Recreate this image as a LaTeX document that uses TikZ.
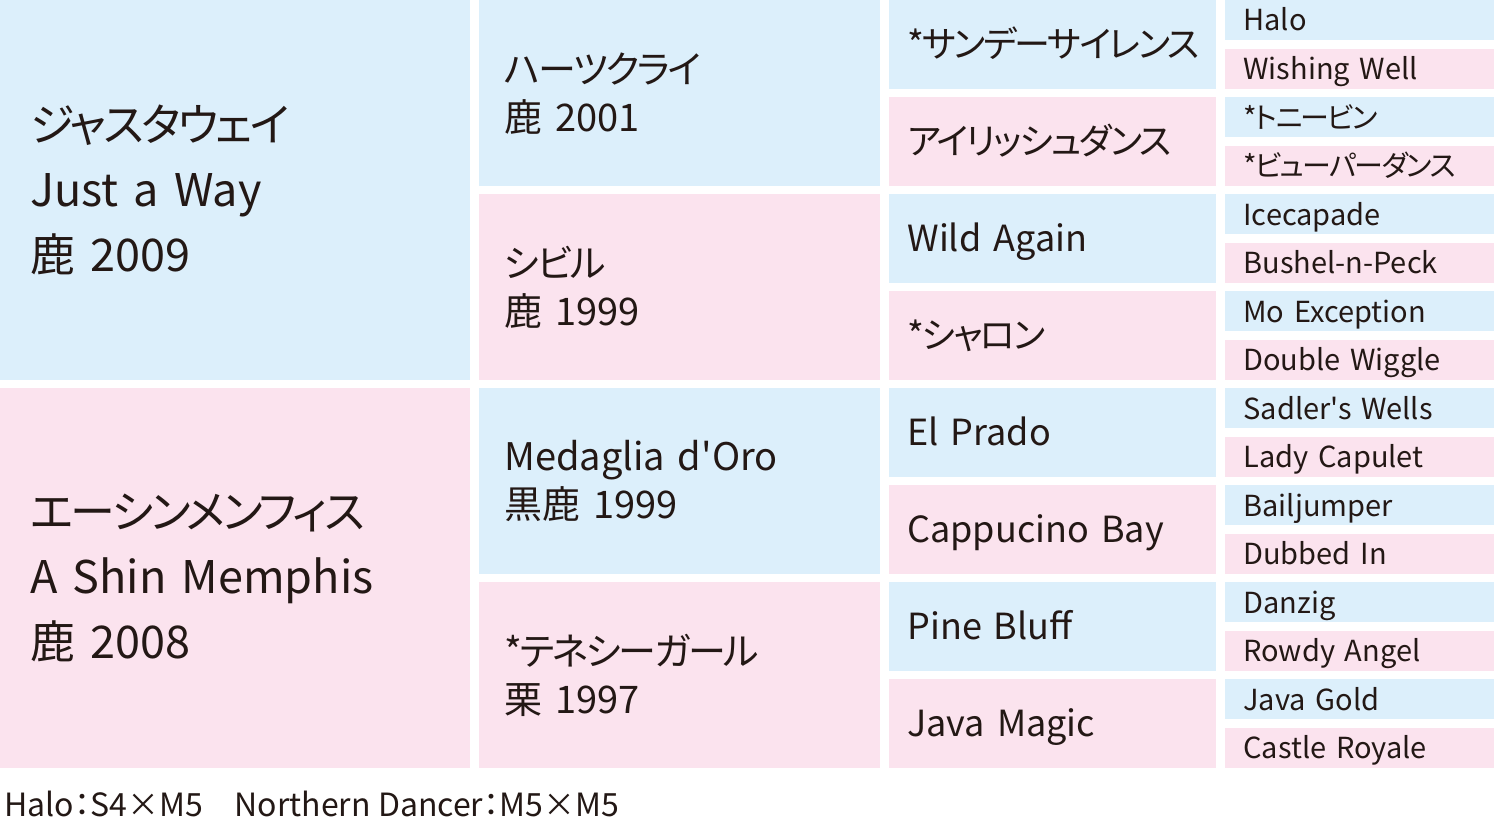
\documentclass[tikz,border=0pt]{standalone}
\usepackage{fontspec}
\newfontfamily\pedfont{Noto Sans CJK JP}[RawFeature=+palt]
\newfontfamily\kanafont{Noto Sans CJK JP}[RawFeature=+palt,LetterSpace=-6]
\usepackage{xcolor}
\definecolor{sireblue}{HTML}{DCEFFB}
\definecolor{damepink}{HTML}{FBE3EE}
\definecolor{inkbrown}{HTML}{231815}

\begin{document}
\begin{tikzpicture}[x=0.5pt,y=0.5pt,yscale=-1,
    cell/.style={anchor=north west, inner ysep=0pt, align=left, text=inkbrown},
    genone/.style={cell, minimum width=235pt, minimum height=189.75pt, inner xsep=15pt, text width=205pt, font=\pedfont\fontsize{22.5}{32.5}\selectfont},
    gentwo/.style={cell, minimum width=200.5pt, minimum height=92.75pt, inner xsep=12.5pt, text width=175.5pt, font=\pedfont\fontsize{19}{24}\selectfont},
    genthree/.style={cell, minimum width=163.5pt, minimum height=44.25pt, inner xsep=9pt, text width=145.5pt, text height=13.2pt, text depth=0pt, font=\pedfont\fontsize{18}{24}\selectfont},
    genfour/.style={cell, minimum width=134.5pt, minimum height=20pt, inner xsep=9pt, text width=116.5pt, text height=10.6pt, text depth=0pt, font=\pedfont\fontsize{14.5}{16}\selectfont},
    sire/.style={fill=sireblue}, dam/.style={fill=damepink}]
        \useasboundingbox (0,0) rectangle (1494,819);

        %Shape: Rectangle  sire and dam
        \node [genone, sire] (sire) at (0,0) {{\kanafont ジャスタウェイ}\\Just a Way\\鹿 2009};
        \node [genone, dam] (dam) at (0,388) {{\kanafont エーシンメンフィス}\\A Shin Memphis\\鹿 2008};

        %Shape: Rectangle  second generation
        \node [gentwo, sire] (ss) at (479,0) {{\kanafont ハーツクライ}\\鹿 2001};
        \node [gentwo, dam] (sd) at (479,194) {{\kanafont シビル}\\鹿 1999};
        \node [gentwo, sire] (ds) at (479,388) {Medaglia d'Oro\\黒鹿 1999};
        \node [gentwo, dam] (dd) at (479,582) {{\kanafont *テネシーガール}\\栗 1997};

        %Shape: Rectangle  third generation
        \node [genthree, sire] (sss) at (889,0) {\kanafont *サンデーサイレンス};
        \node [genthree, dam] (ssd) at (889,97) {\kanafont アイリッシュダンス};
        \node [genthree, sire] (sds) at (889,194) {Wild Again};
        \node [genthree, dam] (sdd) at (889,291) {\kanafont *シャロン};
        \node [genthree, sire] (dss) at (889,388) {El Prado};
        \node [genthree, dam] (dsd) at (889,485) {Cappucino Bay};
        \node [genthree, sire] (dds) at (889,582) {Pine Bluff};
        \node [genthree, dam] (ddd) at (889,679) {Java Magic};

        %Shape: Rectangle  fourth generation
        \node [genfour, sire] (ssss) at (1225,0) {Halo};
        \node [genfour, dam] (sssd) at (1225,48.5) {Wishing Well};
        \node [genfour, sire] (ssds) at (1225,97) {\kanafont *トニービン};
        \node [genfour, dam] (ssdd) at (1225,145.5) {\kanafont *ビューパーダンス};
        \node [genfour, sire] (sdss) at (1225,194) {Icecapade};
        \node [genfour, dam] (sdsd) at (1225,242.5) {Bushel-n-Peck};
        \node [genfour, sire] (sdds) at (1225,291) {Mo Exception};
        \node [genfour, dam] (sddd) at (1225,339.5) {Double Wiggle};
        \node [genfour, sire] (dsss) at (1225,388) {Sadler's Wells};
        \node [genfour, dam] (dssd) at (1225,436.5) {Lady Capulet};
        \node [genfour, sire] (dsds) at (1225,485) {Bailjumper};
        \node [genfour, dam] (dsdd) at (1225,533.5) {Dubbed In};
        \node [genfour, sire] (ddss) at (1225,582) {Danzig};
        \node [genfour, dam] (ddsd) at (1225,630.5) {Rowdy Angel};
        \node [genfour, sire] (ddds) at (1225,679) {Java Gold};
        \node [genfour, dam] (dddd) at (1225,727.5) {Castle Royale};

        % Text Node
        \node [anchor=base west, inner sep=0pt, text=inkbrown, font=\pedfont\fontsize{16}{18}\selectfont] (cross) at (4,816) {Halo：S4×M5　Northern Dancer：M5×M5};

\end{tikzpicture}
\end{document}
